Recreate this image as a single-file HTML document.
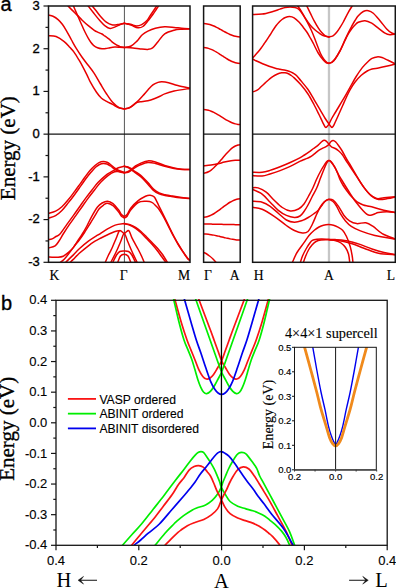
<!DOCTYPE html><html><head><meta charset="utf-8"><title>Band structure figure</title><style>html,body{margin:0;padding:0;background:#fff;width:396px;height:588px;overflow:hidden}svg{display:block}</style></head><body><svg width="396" height="588" viewBox="0 0 396 588"><defs><clipPath id="c1"><rect x="48.5" y="6.0" width="141.5" height="256.3"/></clipPath><clipPath id="c2"><rect x="203.6" y="6.0" width="36.599999999999994" height="256.3"/></clipPath><clipPath id="c3"><rect x="252.6" y="6.0" width="142.70000000000002" height="256.3"/></clipPath><clipPath id="cb"><rect x="56.0" y="299.0" width="331.2" height="246.29999999999995"/></clipPath><clipPath id="ci"><rect x="294.5" y="347.3" width="81.80000000000001" height="122.5"/></clipPath></defs>
<line x1="124.45" y1="6" x2="124.45" y2="262.3" stroke="#666" stroke-width="1.1" />
<line x1="328.97" y1="6" x2="328.97" y2="262.3" stroke="#c6c6c6" stroke-width="2.3" />
<g clip-path="url(#c1)">
<path d="M48.5,15.1 C49.25,15.3 51.4,15.55 53,16.3 C54.6,17.05 56.52,18.23 58.1,19.6 C59.68,20.97 61.15,22.72 62.5,24.5 C63.85,26.28 64.7,27.72 66.2,30.3 C67.7,32.88 69.85,37.03 71.5,40 C73.15,42.97 74.33,45.23 76.1,48.1 C77.87,50.97 80.08,54.33 82.1,57.2 C84.12,60.07 86.18,62.62 88.2,65.3 C90.22,67.98 92.15,70.18 94.2,73.3 C96.25,76.42 98.43,80.55 100.5,84 C102.57,87.45 104.58,90.95 106.6,94 C108.62,97.05 110.58,100.08 112.6,102.3 C114.62,104.52 116.75,106.2 118.7,107.3 C120.65,108.4 123.37,108.63 124.3,108.9" fill="none" stroke="#e80000" stroke-width="1.5" stroke-linejoin="round" stroke-linecap="round" />
<path d="M48.5,35.7 C49.77,35.83 53.48,35.52 56.1,36.5 C58.72,37.48 61.88,39.75 64.2,41.6 C66.52,43.45 68.37,45.85 70,47.6 C71.63,49.35 72.48,50 74,52.1 C75.52,54.2 77.58,57.67 79.1,60.2 C80.62,62.73 81.75,64.77 83.1,67.3 C84.45,69.83 85.98,72.92 87.2,75.4 C88.42,77.88 88.85,79.38 90.4,82.2 C91.95,85.02 94.65,89.62 96.5,92.3 C98.35,94.98 99.82,96.78 101.5,98.3 C103.18,99.82 104.75,100.38 106.6,101.4 C108.45,102.42 110.58,103.33 112.6,104.4 C114.62,105.47 116.75,107.05 118.7,107.8 C120.65,108.55 123.37,108.72 124.3,108.9" fill="none" stroke="#e80000" stroke-width="1.5" stroke-linejoin="round" stroke-linecap="round" />
<path d="M67.2,5 C68.02,5.85 70.43,8.42 72.1,10.1 C73.77,11.78 75.52,13.42 77.2,15.1 C78.88,16.78 80.35,18.43 82.2,20.2 C84.05,21.97 86.28,24.02 88.3,25.7 C90.32,27.38 92.68,29.2 94.3,30.3 C95.92,31.4 96.72,31.68 98,32.3 C99.28,32.92 100.9,33.4 102,34 C103.1,34.6 103.77,35.32 104.6,35.9 C105.43,36.48 106.18,36.92 107,37.5 C107.82,38.08 108.67,38.68 109.5,39.4 C110.33,40.12 111.12,41.07 112,41.8 C112.88,42.53 113.88,43.18 114.8,43.8 C115.72,44.42 116.62,45.03 117.5,45.5 C118.38,45.97 118.95,46.28 120.1,46.6 C121.25,46.92 123.68,47.27 124.4,47.4" fill="none" stroke="#e80000" stroke-width="1.5" stroke-linejoin="round" stroke-linecap="round" />
<path d="M73,5 C73.52,6.18 75.07,9.73 76.1,12.1 C77.13,14.47 78.02,16.52 79.2,19.2 C80.38,21.88 82.07,25.73 83.2,28.2 C84.33,30.67 85.12,32.27 86,34 C86.88,35.73 87.67,37.18 88.5,38.6 C89.33,40.02 90.17,41.38 91,42.5 C91.83,43.62 92.42,44.42 93.5,45.3 C94.58,46.18 96.08,47.22 97.5,47.8 C98.92,48.38 100.58,48.67 102,48.8 C103.42,48.93 104.67,48.78 106,48.6 C107.33,48.42 108.53,47.95 110,47.7 C111.47,47.45 113.22,47.18 114.8,47.1 C116.38,47.02 117.9,47.13 119.5,47.2 C121.1,47.27 123.58,47.45 124.4,47.5" fill="none" stroke="#e80000" stroke-width="1.5" stroke-linejoin="round" stroke-linecap="round" />
<path d="M87.4,5 C88.58,6.52 92.4,11.47 94.5,14.1 C96.6,16.73 98.23,18.83 100,20.8 C101.77,22.77 103.42,24.63 105.1,25.9 C106.78,27.17 108.42,28.23 110.1,28.4 C111.78,28.57 113.52,27.53 115.2,26.9 C116.88,26.27 118.67,25.2 120.2,24.6 C121.73,24 123.7,23.52 124.4,23.3" fill="none" stroke="#e80000" stroke-width="1.5" stroke-linejoin="round" stroke-linecap="round" />
<path d="M91.4,5 C92.08,5.83 94.07,8.2 95.5,10 C96.93,11.8 98.2,13.78 100,15.8 C101.8,17.82 104.2,20.58 106.3,22.1 C108.4,23.62 110.7,24.48 112.6,24.9 C114.5,25.32 116.3,24.77 117.7,24.6 C119.1,24.43 119.88,24.12 121,23.9 C122.12,23.68 123.83,23.4 124.4,23.3" fill="none" stroke="#e80000" stroke-width="1.5" stroke-linejoin="round" stroke-linecap="round" />
<path d="M124.4,23.3 C125,23.38 126.8,23.58 128,23.8 C129.2,24.02 130.17,24.25 131.6,24.6 C133.03,24.95 134.92,25.9 136.6,25.9 C138.28,25.9 140.02,25.45 141.7,24.6 C143.38,23.75 145.32,22.27 146.7,20.8 C148.08,19.33 148.95,17.35 150,15.8 C151.05,14.25 151.92,13.1 153,11.5 C154.08,9.9 155.78,7.28 156.5,6.2 C157.22,5.12 157.17,5.2 157.3,5" fill="none" stroke="#e80000" stroke-width="1.5" stroke-linejoin="round" stroke-linecap="round" />
<path d="M124.4,23.3 C125,23.45 126.8,23.87 128,24.2 C129.2,24.53 129.95,24.7 131.6,25.3 C133.25,25.9 136.02,27.6 137.9,27.8 C139.78,28 141.22,27.67 142.9,26.5 C144.58,25.33 146.82,22.17 148,20.8 C149.18,19.43 149.17,19.4 150,18.3 C150.83,17.2 151.92,15.75 153,14.2 C154.08,12.65 155.45,10.53 156.5,9 C157.55,7.47 158.83,5.67 159.3,5" fill="none" stroke="#e80000" stroke-width="1.5" stroke-linejoin="round" stroke-linecap="round" />
<path d="M124.4,47.5 C125.83,47.57 130.33,47.67 133,47.9 C135.67,48.13 137.92,48.65 140.4,48.9 C142.88,49.15 145.87,49.57 147.9,49.4 C149.93,49.23 150.88,49.23 152.6,47.9 C154.32,46.57 156.18,43.73 158.2,41.4 C160.22,39.07 162.05,35.77 164.7,33.9 C167.35,32.03 171.28,30.98 174.1,30.2 C176.92,29.42 178.87,29.42 181.6,29.2 C184.33,28.98 189.02,28.95 190.5,28.9" fill="none" stroke="#e80000" stroke-width="1.5" stroke-linejoin="round" stroke-linecap="round" />
<path d="M124.4,47.5 C125.52,47.25 129.05,47.02 131.1,46 C133.15,44.98 134.83,43.27 136.7,41.4 C138.57,39.53 140.43,36.52 142.3,34.8 C144.17,33.08 145.72,32.18 147.9,31.1 C150.08,30.02 152.6,29.02 155.4,28.3 C158.2,27.58 161.58,26.95 164.7,26.8 C167.82,26.65 171.28,27.15 174.1,27.4 C176.92,27.65 178.87,28.05 181.6,28.3 C184.33,28.55 189.02,28.8 190.5,28.9" fill="none" stroke="#e80000" stroke-width="1.5" stroke-linejoin="round" stroke-linecap="round" />
<path d="M124.4,108.9 C125.33,108.63 127.98,108.38 130,107.3 C132.02,106.22 134.37,104.33 136.5,102.4 C138.63,100.47 140.9,97.77 142.8,95.7 C144.7,93.63 146.22,91.8 147.9,90 C149.58,88.2 151.22,86.17 152.9,84.9 C154.58,83.63 156.5,82.92 158,82.4 C159.5,81.88 160.15,81.75 161.9,81.8 C163.65,81.85 165.85,82.08 168.5,82.7 C171.15,83.32 174.13,84.57 177.8,85.5 C181.47,86.43 188.38,87.83 190.5,88.3" fill="none" stroke="#e80000" stroke-width="1.5" stroke-linejoin="round" stroke-linecap="round" />
<path d="M124.4,108.9 C125.33,108.67 127.98,108.55 130,107.5 C132.02,106.45 134.78,103.55 136.5,102.6 C138.22,101.65 138.4,102.12 140.3,101.8 C142.2,101.48 145.58,101.2 147.9,100.7 C150.22,100.2 152.18,99.53 154.2,98.8 C156.22,98.07 158.25,97.12 160,96.3 C161.75,95.48 162.35,94.77 164.7,93.9 C167.05,93.03 169.8,92.03 174.1,91.1 C178.4,90.17 187.77,88.77 190.5,88.3" fill="none" stroke="#e80000" stroke-width="1.5" stroke-linejoin="round" stroke-linecap="round" />
<path d="M48.5,213.3 C49.68,212.93 53.37,212.2 55.6,211.1 C57.83,210 59.8,208.58 61.9,206.7 C64,204.82 66.1,202.32 68.2,199.8 C70.3,197.28 72.6,194.13 74.5,191.6 C76.4,189.07 77.85,187.03 79.6,184.6 C81.35,182.17 83.27,179.35 85,177 C86.73,174.65 88.33,172.42 90,170.5 C91.67,168.58 93.5,166.82 95,165.5 C96.5,164.18 97.62,163.27 99,162.6 C100.38,161.93 101.97,161.55 103.3,161.5 C104.63,161.45 105.8,161.8 107,162.3 C108.2,162.8 109.13,163.48 110.5,164.5 C111.87,165.52 113.7,167.35 115.2,168.4 C116.7,169.45 117.97,170.13 119.5,170.8 C121.03,171.47 123.58,172.13 124.4,172.4" fill="none" stroke="#e80000" stroke-width="1.5" stroke-linejoin="round" stroke-linecap="round" />
<path d="M48.5,218.3 C49.68,217.85 53.37,216.9 55.6,215.6 C57.83,214.3 59.8,212.62 61.9,210.5 C64,208.38 66.1,205.53 68.2,202.9 C70.3,200.27 72.4,197.53 74.5,194.7 C76.6,191.87 78.88,188.6 80.8,185.9 C82.72,183.2 84.3,180.77 86,178.5 C87.7,176.23 89.42,174.17 91,172.3 C92.58,170.43 94.08,168.6 95.5,167.3 C96.92,166 98.2,165.15 99.5,164.5 C100.8,163.85 102.05,163.48 103.3,163.4 C104.55,163.32 105.8,163.57 107,164 C108.2,164.43 109.13,165.08 110.5,166 C111.87,166.92 113.7,168.53 115.2,169.5 C116.7,170.47 117.97,171.25 119.5,171.8 C121.03,172.35 123.58,172.63 124.4,172.8" fill="none" stroke="#e80000" stroke-width="1.5" stroke-linejoin="round" stroke-linecap="round" />
<path d="M48.5,239.7 C49.1,239.57 50.85,239.43 52.1,238.9 C53.35,238.37 54.68,237.32 56,236.5 C57.32,235.68 58.18,236.02 60,234 C61.82,231.98 64.68,227.47 66.9,224.4 C69.12,221.33 71.18,218.55 73.3,215.6 C75.42,212.65 77.5,209.65 79.6,206.7 C81.7,203.75 83.8,200.73 85.9,197.9 C88,195.07 90.15,192.3 92.2,189.7 C94.25,187.1 95.93,184.68 98.2,182.3 C100.47,179.92 103.83,177.02 105.8,175.4 C107.77,173.78 108.73,173.4 110,172.6 C111.27,171.8 112,171.4 113.4,170.6 C114.8,169.8 116.57,168.52 118.4,167.8 C120.23,167.08 123.4,166.55 124.4,166.3" fill="none" stroke="#e80000" stroke-width="1.5" stroke-linejoin="round" stroke-linecap="round" />
<path d="M48.5,248 C49.6,247.63 53.35,246.97 55.1,245.8 C56.85,244.63 57.65,242.97 59,241 C60.35,239.03 61.45,236.77 63.2,234 C64.95,231.23 67.4,227.47 69.5,224.4 C71.6,221.33 73.7,218.55 75.8,215.6 C77.9,212.65 80,209.65 82.1,206.7 C84.2,203.75 86.3,200.73 88.4,197.9 C90.5,195.07 92.65,192.3 94.7,189.7 C96.75,187.1 98.43,184.68 100.7,182.3 C102.97,179.92 105.98,177.15 108.3,175.4 C110.62,173.65 112.82,172.43 114.6,171.8 C116.38,171.17 117.37,171.5 119,171.6 C120.63,171.7 123.5,172.27 124.4,172.4" fill="none" stroke="#e80000" stroke-width="1.5" stroke-linejoin="round" stroke-linecap="round" />
<path d="M48.5,257 C49.1,257.03 50.5,257.15 52.1,257.2 C53.7,257.25 56.25,257.47 58.1,257.3 C59.95,257.13 61.52,256.98 63.2,256.2 C64.88,255.42 66.52,254.03 68.2,252.6 C69.88,251.17 71.62,249.7 73.3,247.6 C74.98,245.5 76.8,242.27 78.3,240 C79.8,237.73 80.87,236.33 82.3,234 C83.73,231.67 85.37,228.87 86.9,226 C88.43,223.13 89.73,219.97 91.5,216.8 C93.27,213.63 95.73,209.3 97.5,207 C99.27,204.7 100.43,203.97 102.1,203 C103.77,202.03 105.68,201.1 107.5,201.2 C109.32,201.3 111.17,202.17 113,203.6 C114.83,205.03 117.08,207.98 118.5,209.8 C119.92,211.62 120.53,213.37 121.5,214.5 C122.47,215.63 123.83,216.25 124.3,216.6" fill="none" stroke="#e80000" stroke-width="1.5" stroke-linejoin="round" stroke-linecap="round" />
<path d="M59.5,263 C60.28,262.37 62.58,260.85 64.2,259.2 C65.82,257.55 67.52,255.28 69.2,253.1 C70.88,250.92 72.62,248.28 74.3,246.1 C75.98,243.92 77.6,242.27 79.3,240 C81,237.73 82.73,235.17 84.5,232.5 C86.27,229.83 88.23,226.68 89.9,224 C91.57,221.32 92.98,218.9 94.5,216.4 C96.02,213.9 97.48,210.9 99,209 C100.52,207.1 102.18,205.97 103.6,205 C105.02,204.03 105.93,203.08 107.5,203.2 C109.07,203.32 111.17,204.27 113,205.7 C114.83,207.13 117.08,210.05 118.5,211.8 C119.92,213.55 120.53,215.18 121.5,216.2 C122.47,217.22 123.83,217.62 124.3,217.9" fill="none" stroke="#e80000" stroke-width="1.5" stroke-linejoin="round" stroke-linecap="round" />
<path d="M65,263 C66.13,261.9 69.42,258.77 71.8,256.4 C74.18,254.03 76.53,251.33 79.3,248.8 C82.07,246.27 85.37,243.47 88.4,241.2 C91.43,238.93 95.57,236.42 97.5,235.2 C99.43,233.98 98.32,234.95 100,233.9 C101.68,232.85 105.07,230.37 107.6,228.9 C110.13,227.43 112.4,225.98 115.2,225.1 C118,224.22 122.87,223.85 124.4,223.6" fill="none" stroke="#e80000" stroke-width="1.5" stroke-linejoin="round" stroke-linecap="round" />
<path d="M69.5,263 C70.13,262.4 71.67,261.02 73.3,259.4 C74.93,257.78 76.78,255.57 79.3,253.3 C81.82,251.03 85.78,247.82 88.4,245.8 C91.02,243.78 92.9,242.5 95,241.2 C97.1,239.9 98.98,239.03 101,238 C103.02,236.97 105.27,235.87 107.1,235 C108.93,234.13 110.52,233.42 112,232.8 C113.48,232.18 114.8,231.63 116,231.3 C117.2,230.97 118.67,230.88 119.2,230.8" fill="none" stroke="#e80000" stroke-width="1.5" stroke-linejoin="round" stroke-linecap="round" />
<path d="M105,263 C105.58,261.67 107.38,257.37 108.5,255 C109.62,252.63 110.42,251.6 111.7,248.8 C112.98,246 114.95,241.18 116.2,238.2 C117.45,235.22 118.27,232 119.2,230.9 C120.13,229.8 120.97,231.15 121.8,231.6 C122.63,232.05 123.4,233.6 124.2,233.6 C125,233.6 125.78,232.05 126.6,231.6 C127.42,231.15 128.17,229.78 129.1,230.9 C130.03,232.02 130.72,235.28 132.2,238.3 C133.68,241.32 136.45,246.05 138,249 C139.55,251.95 140.42,253.67 141.5,256 C142.58,258.33 144,261.83 144.5,263" fill="none" stroke="#e80000" stroke-width="1.5" stroke-linejoin="round" stroke-linecap="round" />
<path d="M110.5,263 C111.45,261.13 114.48,255.43 116.2,251.8 C117.92,248.17 119.47,244.23 120.8,241.2 C122.13,238.17 123.07,233.6 124.2,233.6 C125.33,233.6 126.28,238.17 127.6,241.2 C128.92,244.23 130.45,248.17 132.1,251.8 C133.75,255.43 136.6,261.13 137.5,263" fill="none" stroke="#e80000" stroke-width="1.5" stroke-linejoin="round" stroke-linecap="round" />
<path d="M112.5,263 C113.17,261.67 115.28,256.92 116.5,255 C117.72,253.08 118.52,252.17 119.8,251.5 C121.08,250.83 122.73,251 124.2,251 C125.67,251 127.32,250.83 128.6,251.5 C129.88,252.17 130.7,253.08 131.9,255 C133.1,256.92 135.15,261.67 135.8,263" fill="none" stroke="#e80000" stroke-width="1.5" stroke-linejoin="round" stroke-linecap="round" />
<path d="M117.5,263 C118,261.83 119.38,257.47 120.5,256 C121.62,254.53 122.95,254.2 124.2,254.2 C125.45,254.2 126.87,254.53 128,256 C129.13,257.47 130.5,261.83 131,263" fill="none" stroke="#e80000" stroke-width="1.5" stroke-linejoin="round" stroke-linecap="round" />
<path d="M124.3,172.6 C124.92,172.42 126.88,172.02 128,171.5 C129.12,170.98 129.75,170.42 131,169.5 C132.25,168.58 133.93,167.02 135.5,166 C137.07,164.98 138.33,164.25 140.4,163.4 C142.47,162.55 145.4,161.13 147.9,160.9 C150.4,160.67 152.6,161.23 155.4,162 C158.2,162.77 161.58,164.5 164.7,165.5 C167.82,166.5 171.22,167.38 174.1,168 C176.98,168.62 179.27,168.93 182,169.2 C184.73,169.47 189.08,169.53 190.5,169.6" fill="none" stroke="#e80000" stroke-width="1.5" stroke-linejoin="round" stroke-linecap="round" />
<path d="M124.3,173 C124.92,172.87 126.88,172.62 128,172.2 C129.12,171.78 129.75,171.32 131,170.5 C132.25,169.68 133.93,168.25 135.5,167.3 C137.07,166.35 138.33,165.6 140.4,164.8 C142.47,164 145.4,162.73 147.9,162.5 C150.4,162.27 152.6,162.77 155.4,163.4 C158.2,164.03 161.58,165.45 164.7,166.3 C167.82,167.15 171.22,167.98 174.1,168.5 C176.98,169.02 179.27,169.22 182,169.4 C184.73,169.58 189.08,169.57 190.5,169.6" fill="none" stroke="#e80000" stroke-width="1.5" stroke-linejoin="round" stroke-linecap="round" />
<path d="M124.3,166.3 C124.92,166.42 126.88,166.63 128,167 C129.12,167.37 129.87,167.77 131,168.5 C132.13,169.23 133.23,170.3 134.8,171.4 C136.37,172.5 138.22,173.23 140.4,175.1 C142.58,176.97 145.72,180.27 147.9,182.6 C150.08,184.93 151.63,187.38 153.5,189.1 C155.37,190.82 157.18,191.95 159.1,192.9 C161.02,193.85 163.13,194.33 165,194.8 C166.87,195.27 167.8,195.28 170.3,195.7 C172.8,196.12 176.63,196.83 180,197.3 C183.37,197.77 188.75,198.3 190.5,198.5" fill="none" stroke="#e80000" stroke-width="1.5" stroke-linejoin="round" stroke-linecap="round" />
<path d="M124.3,166.3 C124.92,166.5 126.88,166.97 128,167.5 C129.12,168.03 129.87,168.68 131,169.5 C132.13,170.32 133.23,171.23 134.8,172.4 C136.37,173.57 138.22,174.53 140.4,176.5 C142.58,178.47 145.72,181.87 147.9,184.2 C150.08,186.53 151.63,188.88 153.5,190.5 C155.37,192.12 157.18,193.07 159.1,193.9 C161.02,194.73 163.13,195.1 165,195.5 C166.87,195.9 167.8,195.92 170.3,196.3 C172.8,196.68 176.63,197.43 180,197.8 C183.37,198.17 188.75,198.38 190.5,198.5" fill="none" stroke="#e80000" stroke-width="1.5" stroke-linejoin="round" stroke-linecap="round" />
<path d="M124.3,216.6 C124.77,216.25 126,215.93 127.1,214.5 C128.2,213.07 129.05,210.3 130.9,208 C132.75,205.7 135.77,202.67 138.2,200.7 C140.63,198.73 143.53,197.12 145.5,196.2 C147.47,195.28 148.53,195.05 150,195.2 C151.47,195.35 152.87,195.42 154.3,197.1 C155.73,198.78 157.32,202.82 158.6,205.3 C159.88,207.78 160.82,209.62 162,212 C163.18,214.38 164.37,216.85 165.7,219.6 C167.03,222.35 168.57,225.6 170,228.5 C171.43,231.4 172.88,234.33 174.3,237 C175.72,239.67 177.07,242.1 178.5,244.5 C179.93,246.9 181.65,249.48 182.9,251.4 C184.15,253.32 185.05,254.68 186,256 C186.95,257.32 187.85,258.58 188.6,259.3 C189.35,260.02 190.18,260.13 190.5,260.3" fill="none" stroke="#e80000" stroke-width="1.5" stroke-linejoin="round" stroke-linecap="round" />
<path d="M124.3,217.9 C124.77,217.62 126,217.55 127.1,216.2 C128.2,214.85 129.05,212.08 130.9,209.8 C132.75,207.52 135.73,203.93 138.2,202.5 C140.67,201.07 143.82,201.37 145.7,201.2 C147.58,201.03 148.3,201.2 149.5,201.5 C150.7,201.8 151.82,202.25 152.9,203 C153.98,203.75 155.05,205.03 156,206 C156.95,206.97 157.6,207.43 158.6,208.8 C159.6,210.17 160.82,212.18 162,214.2 C163.18,216.22 164.37,218.37 165.7,220.9 C167.03,223.43 168.57,226.6 170,229.4 C171.43,232.2 172.88,235.08 174.3,237.7 C175.72,240.32 177.07,242.73 178.5,245.1 C179.93,247.47 181.65,250.02 182.9,251.9 C184.15,253.78 185.05,255.12 186,256.4 C186.95,257.68 187.85,258.93 188.6,259.6 C189.35,260.27 190.18,260.27 190.5,260.4" fill="none" stroke="#e80000" stroke-width="1.5" stroke-linejoin="round" stroke-linecap="round" />
<path d="M124.4,223.6 C125.33,223.77 128.13,223.98 130,224.6 C131.87,225.22 133.77,226.15 135.6,227.3 C137.43,228.45 139.17,229.88 141,231.5 C142.83,233.12 144.77,235.17 146.6,237 C148.43,238.83 150.18,240.63 152,242.5 C153.82,244.37 155.75,246.2 157.5,248.2 C159.25,250.2 160.92,252.25 162.5,254.5 C164.08,256.75 166.12,260.28 167,261.7 C167.88,263.12 167.67,262.78 167.8,263" fill="none" stroke="#e80000" stroke-width="1.5" stroke-linejoin="round" stroke-linecap="round" />
<path d="M124.4,223.9 C125.33,224.13 128.13,224.55 130,225.3 C131.87,226.05 133.77,227.15 135.6,228.4 C137.43,229.65 139.17,231.1 141,232.8 C142.83,234.5 144.77,236.68 146.6,238.6 C148.43,240.52 150.27,242.37 152,244.3 C153.73,246.23 155.37,248.12 157,250.2 C158.63,252.28 160.33,254.78 161.8,256.8 C163.27,258.82 165.03,261.27 165.8,262.3 C166.57,263.33 166.3,262.88 166.4,263" fill="none" stroke="#e80000" stroke-width="1.5" stroke-linejoin="round" stroke-linecap="round" />
</g>
<g clip-path="url(#c2)">
<path d="M203.1,23.5 C203.55,23.53 204.89,23.56 205.79,23.67 C206.68,23.78 207.58,23.95 208.47,24.17 C209.37,24.39 210.26,24.66 211.16,24.97 C212.05,25.28 212.95,25.65 213.84,26.04 C214.74,26.43 215.63,26.87 216.53,27.32 C217.42,27.77 218.32,28.26 219.21,28.75 C220.11,29.24 221,29.75 221.9,30.25 C222.8,30.75 223.69,31.26 224.59,31.75 C225.48,32.24 226.38,32.73 227.27,33.18 C228.17,33.63 229.06,34.07 229.96,34.46 C230.85,34.85 231.75,35.22 232.64,35.53 C233.54,35.84 234.43,36.11 235.33,36.33 C236.22,36.55 237.12,36.72 238.01,36.83 C238.91,36.94 240.25,36.97 240.7,37" fill="none" stroke="#e80000" stroke-width="1.5" stroke-linejoin="round" stroke-linecap="round" />
<path d="M203.1,47.6 C203.55,47.63 204.89,47.67 205.79,47.8 C206.68,47.93 207.58,48.13 208.47,48.39 C209.37,48.64 210.26,48.97 211.16,49.33 C212.05,49.7 212.95,50.13 213.84,50.59 C214.74,51.05 215.63,51.57 216.53,52.1 C217.42,52.63 218.32,53.21 219.21,53.78 C220.11,54.36 221,54.96 221.9,55.55 C222.8,56.14 223.69,56.74 224.59,57.32 C225.48,57.89 226.38,58.47 227.27,59 C228.17,59.53 229.06,60.05 229.96,60.51 C230.85,60.97 231.75,61.4 232.64,61.77 C233.54,62.13 234.43,62.46 235.33,62.71 C236.22,62.97 237.12,63.17 238.01,63.3 C238.91,63.43 240.25,63.47 240.7,63.5" fill="none" stroke="#e80000" stroke-width="1.5" stroke-linejoin="round" stroke-linecap="round" />
<path d="M203.1,109.6 C203.55,109.63 204.89,109.66 205.79,109.79 C206.68,109.91 207.58,110.1 208.47,110.34 C209.37,110.58 210.26,110.89 211.16,111.24 C212.05,111.58 212.95,111.99 213.84,112.42 C214.74,112.86 215.63,113.34 216.53,113.85 C217.42,114.35 218.32,114.89 219.21,115.43 C220.11,115.97 221,116.54 221.9,117.1 C222.8,117.66 223.69,118.23 224.59,118.77 C225.48,119.31 226.38,119.85 227.27,120.35 C228.17,120.86 229.06,121.34 229.96,121.78 C230.85,122.21 231.75,122.62 232.64,122.96 C233.54,123.31 234.43,123.62 235.33,123.86 C236.22,124.1 237.12,124.29 238.01,124.41 C238.91,124.54 240.25,124.57 240.7,124.6" fill="none" stroke="#e80000" stroke-width="1.5" stroke-linejoin="round" stroke-linecap="round" />
<path d="M203.1,166 C204.43,165.85 208.65,165.47 211.1,165.1 C213.55,164.73 215.58,164.3 217.8,163.8 C220.02,163.3 222.18,162.62 224.4,162.1 C226.62,161.58 229.17,161 231.1,160.7 C233.03,160.4 234.4,160.38 236,160.3 C237.6,160.22 239.92,160.22 240.7,160.2" fill="none" stroke="#e80000" stroke-width="1.5" stroke-linejoin="round" stroke-linecap="round" />
<path d="M203.1,173.2 C203.55,173.14 204.89,173.08 205.79,172.84 C206.68,172.61 207.58,172.24 208.47,171.78 C209.37,171.32 210.26,170.74 211.16,170.08 C212.05,169.42 212.95,168.65 213.84,167.82 C214.74,166.99 215.63,166.06 216.53,165.1 C217.42,164.15 218.32,163.12 219.21,162.08 C220.11,161.05 221,159.96 221.9,158.9 C222.8,157.84 223.69,156.75 224.59,155.72 C225.48,154.68 226.38,153.65 227.27,152.7 C228.17,151.74 229.06,150.81 229.96,149.98 C230.85,149.15 231.75,148.38 232.64,147.72 C233.54,147.06 234.43,146.48 235.33,146.02 C236.22,145.56 237.12,145.19 238.01,144.96 C238.91,144.72 240.25,144.66 240.7,144.6" fill="none" stroke="#e80000" stroke-width="1.5" stroke-linejoin="round" stroke-linecap="round" />
<path d="M203.1,217.2 C203.55,217.16 204.89,217.12 205.79,216.97 C206.68,216.82 207.58,216.58 208.47,216.29 C209.37,215.99 210.26,215.62 211.16,215.19 C212.05,214.77 212.95,214.27 213.84,213.74 C214.74,213.2 215.63,212.61 216.53,211.99 C217.42,211.38 218.32,210.71 219.21,210.05 C220.11,209.38 221,208.68 221.9,208 C222.8,207.32 223.69,206.62 224.59,205.95 C225.48,205.29 226.38,204.62 227.27,204.01 C228.17,203.39 229.06,202.8 229.96,202.26 C230.85,201.73 231.75,201.23 232.64,200.81 C233.54,200.38 234.43,200.01 235.33,199.71 C236.22,199.42 237.12,199.18 238.01,199.03 C238.91,198.88 240.25,198.84 240.7,198.8" fill="none" stroke="#e80000" stroke-width="1.5" stroke-linejoin="round" stroke-linecap="round" />
<path d="M203.1,224 C203.55,224 204.89,224.02 205.79,224.03 C206.68,224.04 207.58,224.05 208.47,224.07 C209.37,224.08 210.26,224.1 211.16,224.11 C212.05,224.13 212.95,224.15 213.84,224.17 C214.74,224.18 215.63,224.2 216.53,224.22 C217.42,224.24 218.32,224.27 219.21,224.29 C220.11,224.31 221,224.33 221.9,224.35 C222.8,224.37 223.69,224.39 224.59,224.41 C225.48,224.43 226.38,224.46 227.27,224.48 C228.17,224.5 229.06,224.52 229.96,224.53 C230.85,224.55 231.75,224.57 232.64,224.59 C233.54,224.6 234.43,224.62 235.33,224.63 C236.22,224.65 237.12,224.66 238.01,224.67 C238.91,224.68 240.25,224.7 240.7,224.7" fill="none" stroke="#e80000" stroke-width="1.5" stroke-linejoin="round" stroke-linecap="round" />
<path d="M203.1,234 C203.55,234.01 204.89,234.03 205.79,234.08 C206.68,234.12 207.58,234.2 208.47,234.3 C209.37,234.39 210.26,234.52 211.16,234.65 C212.05,234.79 212.95,234.96 213.84,235.13 C214.74,235.3 215.63,235.5 216.53,235.7 C217.42,235.9 218.32,236.12 219.21,236.33 C220.11,236.55 221,236.78 221.9,237 C222.8,237.22 223.69,237.45 224.59,237.67 C225.48,237.88 226.38,238.1 227.27,238.3 C228.17,238.5 229.06,238.7 229.96,238.87 C230.85,239.04 231.75,239.21 232.64,239.35 C233.54,239.48 234.43,239.61 235.33,239.7 C236.22,239.8 237.12,239.88 238.01,239.92 C238.91,239.97 240.25,239.99 240.7,240" fill="none" stroke="#e80000" stroke-width="1.5" stroke-linejoin="round" stroke-linecap="round" />
<path d="M203.1,252.4 C203.58,252.58 204.93,252.9 206,253.5 C207.07,254.1 208.33,255.08 209.5,256 C210.67,256.92 211.83,257.83 213,259 C214.17,260.17 215.92,262.33 216.5,263" fill="none" stroke="#e80000" stroke-width="1.5" stroke-linejoin="round" stroke-linecap="round" />
</g>
<g clip-path="url(#c3)">
<path d="M252,14.5 C253.68,14.43 258.73,14.57 262.1,14.1 C265.47,13.63 269.22,12.53 272.2,11.7 C275.18,10.87 277.85,9.8 280,9.1 C282.15,8.4 283.42,7.85 285.1,7.5 C286.78,7.15 288.42,7 290.1,7 C291.78,7 293.68,7.07 295.2,7.5 C296.72,7.93 297.87,8.33 299.2,9.6 C300.53,10.87 301.85,13 303.2,15.1 C304.55,17.2 305.95,19.67 307.3,22.2 C308.65,24.73 310.1,27.67 311.3,30.3 C312.5,32.93 313.47,35.38 314.5,38 C315.53,40.62 316.5,43.42 317.5,46 C318.5,48.58 319.42,51.25 320.5,53.5 C321.58,55.75 322.92,57.98 324,59.5 C325.08,61.02 326.18,61.97 327,62.6 C327.82,63.23 328.58,63.18 328.9,63.3" fill="none" stroke="#e80000" stroke-width="1.5" stroke-linejoin="round" stroke-linecap="round" />
<path d="M252,58.7 C252.5,58.15 254,56.52 255,55.4 C256,54.28 257,53.2 258,52 C259,50.8 260,49.53 261,48.2 C262,46.87 263,45.42 264,44 C265,42.58 266,41.2 267,39.7 C268,38.2 269,36.58 270,35 C271,33.42 272,31.73 273,30.2 C274,28.67 275,27.13 276,25.8 C277,24.47 278,23.25 279,22.2 C280,21.15 280.95,20.28 282,19.5 C283.05,18.72 284.03,18 285.3,17.5 C286.57,17 288.13,16.45 289.6,16.5 C291.07,16.55 292.5,16.85 294.1,17.8 C295.7,18.75 297.68,20.63 299.2,22.2 C300.72,23.77 301.93,25.57 303.2,27.2 C304.47,28.83 305.67,30.28 306.8,32 C307.93,33.72 308.93,35.63 310,37.5 C311.07,39.37 311.83,40.62 313.2,43.2 C314.57,45.78 316.52,50.2 318.2,53 C319.88,55.8 322,58.42 323.3,60 C324.6,61.58 325.07,61.93 326,62.5 C326.93,63.07 328.42,63.25 328.9,63.4" fill="none" stroke="#e80000" stroke-width="1.5" stroke-linejoin="round" stroke-linecap="round" />
<path d="M296.3,4 C296.53,4.33 296.88,4.82 297.7,6 C298.52,7.18 299.93,9.08 301.2,11.1 C302.47,13.12 303.78,15.75 305.3,18.1 C306.82,20.45 308.62,23.17 310.3,25.2 C311.98,27.23 313.88,28.95 315.4,30.3 C316.92,31.65 318.13,32.43 319.4,33.3 C320.67,34.17 321.42,34.88 323,35.5 C324.58,36.12 327.92,36.75 328.9,37" fill="none" stroke="#e80000" stroke-width="1.5" stroke-linejoin="round" stroke-linecap="round" />
<path d="M305.8,4 C305.97,4.33 306.05,4.48 306.8,6 C307.55,7.52 309.05,10.57 310.3,13.1 C311.55,15.63 312.95,18.68 314.3,21.2 C315.65,23.72 317.2,26.35 318.4,28.2 C319.6,30.05 320.35,31.03 321.5,32.3 C322.65,33.57 324.07,35.02 325.3,35.8 C326.53,36.58 328.3,36.8 328.9,37" fill="none" stroke="#e80000" stroke-width="1.5" stroke-linejoin="round" stroke-linecap="round" />
<path d="M328.9,37 C329.58,36.82 331.7,36.68 333,35.9 C334.3,35.12 335.53,33.7 336.7,32.3 C337.87,30.9 338.9,29.22 340,27.5 C341.1,25.78 341.92,24.53 343.3,22 C344.68,19.47 346.77,15.05 348.3,12.3 C349.83,9.55 351.67,6.88 352.5,5.5 C353.33,4.12 353.17,4.25 353.3,4" fill="none" stroke="#e80000" stroke-width="1.5" stroke-linejoin="round" stroke-linecap="round" />
<path d="M328.9,63.3 C329.42,63.08 330.98,62.72 332,62 C333.02,61.28 333.67,60.88 335,59 C336.33,57.12 338.33,53.9 340,50.7 C341.67,47.5 343.62,42.78 345,39.8 C346.38,36.82 347.18,35.05 348.3,32.8 C349.42,30.55 350.58,28.35 351.7,26.3 C352.82,24.25 353.9,22.27 355,20.5 C356.1,18.73 356.92,17.2 358.3,15.7 C359.68,14.2 361.63,12.33 363.3,11.5 C364.97,10.67 366.63,10.42 368.3,10.7 C369.97,10.98 371.35,11.53 373.3,13.2 C375.25,14.87 377.77,18.07 380,20.7 C382.23,23.33 384.75,26.95 386.7,29 C388.65,31.05 390.23,32.17 391.7,33 C393.17,33.83 394.87,33.83 395.5,34" fill="none" stroke="#e80000" stroke-width="1.5" stroke-linejoin="round" stroke-linecap="round" />
<path d="M328.9,63.4 C329.42,63.22 330.98,62.98 332,62.3 C333.02,61.62 333.67,61.15 335,59.3 C336.33,57.45 338.33,54.33 340,51.2 C341.67,48.07 343.62,43.37 345,40.5 C346.38,37.63 347.18,35.95 348.3,34 C349.42,32.05 350.58,30.3 351.7,28.8 C352.82,27.3 353.9,26.08 355,25 C356.1,23.92 356.63,23.02 358.3,22.3 C359.97,21.58 362.77,20.55 365,20.7 C367.23,20.85 369.48,21.95 371.7,23.2 C373.92,24.45 376.08,26.53 378.3,28.2 C380.52,29.87 383.05,32.1 385,33.2 C386.95,34.3 388.25,34.63 390,34.8 C391.75,34.97 394.58,34.3 395.5,34.2" fill="none" stroke="#e80000" stroke-width="1.5" stroke-linejoin="round" stroke-linecap="round" />
<path d="M252,58.7 C252.67,59.05 254.23,59.95 256,60.8 C257.77,61.65 260.43,62.88 262.6,63.8 C264.77,64.72 266.88,65.55 269,66.3 C271.12,67.05 273.47,67.8 275.3,68.3 C277.13,68.8 278.32,68.97 280,69.3 C281.68,69.63 283.9,69.97 285.4,70.3 C286.9,70.63 287.75,70.85 289,71.3 C290.25,71.75 291.65,72.3 292.9,73 C294.15,73.7 295.2,74.25 296.5,75.5 C297.8,76.75 298.78,78.17 300.7,80.5 C302.62,82.83 305.75,86.28 308,89.5 C310.25,92.72 312.15,96.35 314.2,99.8 C316.25,103.25 318.47,107.08 320.3,110.2 C322.13,113.32 323.75,116.2 325.2,118.5 C326.65,120.8 328.08,122.7 329,124 C329.92,125.3 330.17,125.73 330.7,126.3 C331.23,126.87 331.65,127.65 332.2,127.4 C332.75,127.15 333.07,126.62 334,124.8 C334.93,122.98 336.35,119.72 337.8,116.5 C339.25,113.28 341.27,108.72 342.7,105.5 C344.13,102.28 345.18,99.82 346.4,97.2 C347.62,94.58 348.58,92.3 350,89.8 C351.42,87.3 353.07,84.58 354.9,82.2 C356.73,79.82 358.95,77.37 361,75.5 C363.05,73.63 365.37,72.08 367.2,71 C369.03,69.92 370.12,69.5 372,69 C373.88,68.5 376.33,68.4 378.5,68 C380.67,67.6 382.17,67.27 385,66.6 C387.83,65.93 393.75,64.43 395.5,64" fill="none" stroke="#e80000" stroke-width="1.5" stroke-linejoin="round" stroke-linecap="round" />
<path d="M252,91.8 C252.42,91.73 253.57,91.72 254.5,91.4 C255.43,91.08 256.52,90.67 257.6,89.9 C258.68,89.13 259.73,87.97 261,86.8 C262.27,85.63 263.87,84.12 265.2,82.9 C266.53,81.68 267.75,80.55 269,79.5 C270.25,78.45 271.37,77.48 272.7,76.6 C274.03,75.72 275.52,74.83 277,74.2 C278.48,73.57 280.27,73.03 281.6,72.8 C282.93,72.57 283.95,72.68 285,72.8 C286.05,72.92 286.9,73.08 287.9,73.5 C288.9,73.92 289.95,74.57 291,75.3 C292.05,76.03 292.58,76.35 294.2,77.9 C295.82,79.45 298.4,81.92 300.7,84.6 C303,87.28 305.75,90.6 308,94 C310.25,97.4 312.37,101.58 314.2,105 C316.03,108.42 317.58,111.62 319,114.5 C320.42,117.38 321.63,120.18 322.7,122.3 C323.77,124.42 324.63,126.53 325.4,127.2 C326.17,127.87 326.7,126.83 327.3,126.3 C327.9,125.77 328.22,125.38 329,124 C329.78,122.62 330.95,119.92 332,118 C333.05,116.08 333.72,115.13 335.3,112.5 C336.88,109.87 339.65,105.32 341.5,102.2 C343.35,99.08 344.77,96.67 346.4,93.8 C348.03,90.93 349.67,87.88 351.3,85 C352.93,82.12 354.37,79.4 356.2,76.5 C358.03,73.6 360.27,70.15 362.3,67.6 C364.33,65.05 366.78,62.73 368.4,61.2 C370.02,59.67 370.57,59.12 372,58.4 C373.43,57.68 375.33,57.05 377,56.9 C378.67,56.75 380.17,56.93 382,57.5 C383.83,58.07 385.75,59.22 388,60.3 C390.25,61.38 394.25,63.38 395.5,64" fill="none" stroke="#e80000" stroke-width="1.5" stroke-linejoin="round" stroke-linecap="round" />
<path d="M252,172.2 C253.68,172.22 259.1,172.6 262.1,172.3 C265.1,172 267,171.33 270,170.4 C273,169.47 276.73,168.02 280.1,166.7 C283.47,165.38 286.83,164.02 290.2,162.5 C293.57,160.98 297.92,158.85 300.3,157.6 C302.68,156.35 303.03,155.95 304.5,155 C305.97,154.05 307.58,152.98 309.1,151.9 C310.62,150.82 312.08,149.63 313.6,148.5 C315.12,147.37 316.8,146.27 318.2,145.1 C319.6,143.93 321,142.3 322,141.5 C323,140.7 323.45,140.33 324.2,140.3 C324.95,140.27 325.73,140.68 326.5,141.3 C327.27,141.92 327.97,143.08 328.8,144 C329.63,144.92 330.42,146.05 331.5,146.8 C332.58,147.55 334.13,147.83 335.3,148.5 C336.47,149.17 337.35,149.8 338.5,150.8 C339.65,151.8 340.95,152.88 342.2,154.5 C343.45,156.12 344.7,158.5 346,160.5 C347.3,162.5 348.22,163.8 350,166.5 C351.78,169.2 354.37,173.18 356.7,176.7 C359.03,180.22 361.57,184.42 364,187.6 C366.43,190.78 368.88,193.82 371.3,195.8 C373.72,197.78 375.78,199.03 378.5,199.5 C381.22,199.97 384.77,199.05 387.6,198.6 C390.43,198.15 394.18,197.1 395.5,196.8" fill="none" stroke="#e80000" stroke-width="1.5" stroke-linejoin="round" stroke-linecap="round" />
<path d="M252,175.6 C253.68,175.67 259.1,176.27 262.1,176 C265.1,175.73 267,174.9 270,174 C273,173.1 276.73,171.87 280.1,170.6 C283.47,169.33 286.83,167.97 290.2,166.4 C293.57,164.83 297.83,162.4 300.3,161.2 C302.77,160 303.38,159.9 305,159.2 C306.62,158.5 308.5,157.83 310,157 C311.5,156.17 312.67,155.22 314,154.2 C315.33,153.18 316.75,151.8 318,150.9 C319.25,150 320.42,149.38 321.5,148.8 C322.58,148.22 323.62,147.83 324.5,147.4 C325.38,146.97 326.08,146.68 326.8,146.2 C327.52,145.72 328.1,145.28 328.8,144.5 C329.5,143.72 330.27,142.18 331,141.5 C331.73,140.82 332.45,140.35 333.2,140.4 C333.95,140.45 334.62,140.95 335.5,141.8 C336.38,142.65 337.38,143.97 338.5,145.5 C339.62,147.03 340.95,148.92 342.2,151 C343.45,153.08 344.7,155.75 346,158 C347.3,160.25 348.52,162 350,164.5 C351.48,167 352.87,169.6 354.9,173 C356.93,176.4 359.77,181.4 362.2,184.9 C364.63,188.4 367.08,191.73 369.5,194 C371.92,196.27 374.28,197.87 376.7,198.5 C379.12,199.13 380.87,198.08 384,197.8 C387.13,197.52 393.58,196.97 395.5,196.8" fill="none" stroke="#e80000" stroke-width="1.5" stroke-linejoin="round" stroke-linecap="round" />
<path d="M252,187.7 C253.02,187.73 255.73,187.17 258.1,187.9 C260.47,188.63 263.52,190.05 266.2,192.1 C268.88,194.15 271.52,197.63 274.2,200.2 C276.88,202.77 279.6,205.7 282.3,207.5 C285,209.3 287.7,210.75 290.4,211 C293.1,211.25 296.23,210.17 298.5,209 C300.77,207.83 302.32,206.17 304,204 C305.68,201.83 307.17,198.58 308.6,196 C310.03,193.42 311.25,191.33 312.6,188.5 C313.95,185.67 315.35,181.92 316.7,179 C318.05,176.08 319.37,173.42 320.7,171 C322.03,168.58 323.65,166.12 324.7,164.5 C325.75,162.88 326.3,161.98 327,161.3 C327.7,160.62 328.23,160.37 328.9,160.4 C329.57,160.43 330.07,160.48 331,161.5 C331.93,162.52 333.42,164.58 334.5,166.5 C335.58,168.42 336.55,170.75 337.5,173 C338.45,175.25 339.25,177.92 340.2,180 C341.15,182.08 342.12,183.75 343.2,185.5 C344.28,187.25 345.48,188.83 346.7,190.5 C347.92,192.17 349.12,193.92 350.5,195.5 C351.88,197.08 353.58,198.75 355,200 C356.42,201.25 357.62,202.17 359,203 C360.38,203.83 361.88,204.5 363.3,205 C364.72,205.5 366.1,205.7 367.5,206 C368.9,206.3 369.62,206.27 371.7,206.8 C373.78,207.33 377.37,208.5 380,209.2 C382.63,209.9 384.92,210.45 387.5,211 C390.08,211.55 394.17,212.25 395.5,212.5" fill="none" stroke="#e80000" stroke-width="1.5" stroke-linejoin="round" stroke-linecap="round" />
<path d="M252,189.1 C253.68,189.93 259.07,191.92 262.1,194.1 C265.13,196.28 267.5,199.5 270.2,202.2 C272.9,204.9 275.6,208.1 278.3,210.3 C281,212.5 283.72,214.22 286.4,215.4 C289.08,216.58 292.13,217.3 294.4,217.4 C296.67,217.5 298.4,216.98 300,216 C301.6,215.02 302.67,213.33 304,211.5 C305.33,209.67 306.67,207.42 308,205 C309.33,202.58 310.55,199.83 312,197 C313.45,194.17 315.25,191.25 316.7,188 C318.15,184.75 319.37,180.92 320.7,177.5 C322.03,174.08 323.65,170 324.7,167.5 C325.75,165 326.3,163.65 327,162.5 C327.7,161.35 328.23,160.68 328.9,160.6 C329.57,160.52 330,160.85 331,162 C332,163.15 333.65,165.42 334.9,167.5 C336.15,169.58 337.37,172.42 338.5,174.5 C339.63,176.58 340.45,177.92 341.7,180 C342.95,182.08 344.62,184.78 346,187 C347.38,189.22 348.67,191.22 350,193.3 C351.33,195.38 352.62,197.55 354,199.5 C355.38,201.45 356.88,203.25 358.3,205 C359.72,206.75 361.1,208.47 362.5,210 C363.9,211.53 365.53,213.33 366.7,214.2 C367.87,215.07 368.67,215.07 369.5,215.2 C370.33,215.33 370.78,215.23 371.7,215 C372.62,214.77 373.9,214.2 375,213.8 C376.1,213.4 376.35,212.95 378.3,212.6 C380.25,212.25 383.83,211.72 386.7,211.7 C389.57,211.68 394.03,212.37 395.5,212.5" fill="none" stroke="#e80000" stroke-width="1.5" stroke-linejoin="round" stroke-linecap="round" />
<path d="M252,201.2 C253.68,201.37 259.07,201.35 262.1,202.2 C265.13,203.05 267.5,204.45 270.2,206.3 C272.9,208.15 275.6,211.02 278.3,213.3 C281,215.58 283.72,218.52 286.4,220 C289.08,221.48 291.72,222.13 294.4,222.2 C297.08,222.27 300.2,221.18 302.5,220.4 C304.8,219.62 306.37,218.57 308.2,217.5 C310.03,216.43 311.87,215.17 313.5,214 C315.13,212.83 316.47,212.13 318,210.5 C319.53,208.87 321.37,205.87 322.7,204.2 C324.03,202.53 324.98,201.33 326,200.5 C327.02,199.67 327.62,199.28 328.8,199.2 C329.98,199.12 331.48,198.8 333.1,200 C334.72,201.2 336.68,203.82 338.5,206.4 C340.32,208.98 342.17,213.08 344,215.5 C345.83,217.92 347.38,219.55 349.5,220.9 C351.62,222.25 353.98,223.3 356.7,223.6 C359.42,223.9 363.07,222.23 365.8,222.7 C368.53,223.17 370.37,224.58 373.1,226.4 C375.83,228.22 378.47,231.48 382.2,233.6 C385.93,235.72 393.28,238.18 395.5,239.1" fill="none" stroke="#e80000" stroke-width="1.5" stroke-linejoin="round" stroke-linecap="round" />
<path d="M252,207.3 C253.68,207.63 258.4,207.78 262.1,209.3 C265.8,210.82 270.15,213.7 274.2,216.4 C278.25,219.1 283.03,223.15 286.4,225.5 C289.77,227.85 291.72,229.27 294.4,230.5 C297.08,231.73 300.23,232.73 302.5,232.9 C304.77,233.07 306.38,232.9 308,231.5 C309.62,230.1 310.73,227.42 312.2,224.5 C313.67,221.58 315.5,216.83 316.8,214 C318.1,211.17 318.8,209.5 320,207.5 C321.2,205.5 322.53,203.33 324,202 C325.47,200.67 327.3,199.58 328.8,199.5 C330.3,199.42 331.72,200.42 333,201.5 C334.28,202.58 335.27,203.98 336.5,206 C337.73,208.02 338.9,211.1 340.4,213.6 C341.9,216.1 343.68,218.87 345.5,221 C347.32,223.13 348.82,224.75 351.3,226.4 C353.78,228.05 356.47,229.38 360.4,230.9 C364.33,232.42 369.05,234.13 374.9,235.5 C380.75,236.87 392.07,238.5 395.5,239.1" fill="none" stroke="#e80000" stroke-width="1.5" stroke-linejoin="round" stroke-linecap="round" />
<path d="M292.1,263 C292.92,261.25 294.98,255.93 297,252.5 C299.02,249.07 302.2,245.23 304.2,242.4 C306.2,239.57 307.32,237.52 309,235.5 C310.68,233.48 312.63,231.72 314.3,230.3 C315.97,228.88 317.47,227.85 319,227 C320.53,226.15 321.92,225.6 323.5,225.2 C325.08,224.8 326.83,224.6 328.5,224.6 C330.17,224.6 331.92,224.77 333.5,225.2 C335.08,225.63 336.48,226.35 338,227.2 C339.52,228.05 341.18,228.75 342.6,230.3 C344.02,231.85 345.23,233.8 346.5,236.5 C347.77,239.2 349.25,243.25 350.2,246.5 C351.15,249.75 351.73,253.25 352.2,256 C352.67,258.75 352.87,261.83 353,263" fill="none" stroke="#e80000" stroke-width="1.5" stroke-linejoin="round" stroke-linecap="round" />
<path d="M300.2,263 C300.58,261.83 301.48,258.42 302.5,256 C303.52,253.58 305.13,250.58 306.3,248.5 C307.47,246.42 308.5,244.85 309.5,243.5 C310.5,242.15 311.05,241.12 312.3,240.4 C313.55,239.68 315.38,239.43 317,239.2 C318.62,238.97 320.08,238.98 322,239 C323.92,239.02 326.33,239.2 328.5,239.3 C330.67,239.4 332.32,239.42 335,239.6 C337.68,239.78 341.77,240 344.6,240.4 C347.43,240.8 349.43,241.33 352,242 C354.57,242.67 356.67,243.23 360,244.4 C363.33,245.57 368,247.65 372,249 C376,250.35 380.08,251.58 384,252.5 C387.92,253.42 393.58,254.17 395.5,254.5" fill="none" stroke="#e80000" stroke-width="1.5" stroke-linejoin="round" stroke-linecap="round" />
<path d="M303.2,263 C303.58,261.92 304.62,258.67 305.5,256.5 C306.38,254.33 307.42,251.92 308.5,250 C309.58,248.08 310.75,246.42 312,245 C313.25,243.58 314.5,242.33 316,241.5 C317.5,240.67 318.92,240.28 321,240 C323.08,239.72 326.17,239.72 328.5,239.8 C330.83,239.88 332.92,239.97 335,240.5 C337.08,241.03 339.25,241.83 341,243 C342.75,244.17 344.25,245.67 345.5,247.5 C346.75,249.33 347.78,251.42 348.5,254 C349.22,256.58 349.58,261.5 349.8,263" fill="none" stroke="#e80000" stroke-width="1.5" stroke-linejoin="round" stroke-linecap="round" />
<path d="M328.9,239.8 C330.5,239.92 334.77,239.88 338.5,240.5 C342.23,241.12 347.05,242.22 351.3,243.5 C355.55,244.78 359.47,246.58 364,248.2 C368.53,249.82 373.25,252.1 378.5,253.2 C383.75,254.3 392.67,254.53 395.5,254.8" fill="none" stroke="#e80000" stroke-width="1.5" stroke-linejoin="round" stroke-linecap="round" />
</g>
<line x1="48.5" y1="134.15" x2="190" y2="134.15" stroke="#151515" stroke-width="1.3" />
<line x1="203.6" y1="134.15" x2="240.2" y2="134.15" stroke="#151515" stroke-width="1.3" />
<line x1="252.6" y1="134.15" x2="395.3" y2="134.15" stroke="#151515" stroke-width="1.3" />
<rect x="48.5" y="6" width="141.5" height="256.3" fill="none" stroke="#151515" stroke-width="1.5"/>
<rect x="203.6" y="6" width="36.6" height="256.3" fill="none" stroke="#151515" stroke-width="1.5"/>
<rect x="252.6" y="6" width="142.7" height="256.3" fill="none" stroke="#151515" stroke-width="1.5"/>
<line x1="43.5" y1="262.3" x2="48.5" y2="262.3" stroke="#151515" stroke-width="1.2" />
<text x="39.8" y="266.2" font-size="13" font-family='"Liberation Sans", sans-serif' text-anchor="end" stroke="#000" stroke-width="0.35">-3</text>
<line x1="43.5" y1="219.58" x2="48.5" y2="219.58" stroke="#151515" stroke-width="1.2" />
<text x="39.8" y="223.48" font-size="13" font-family='"Liberation Sans", sans-serif' text-anchor="end" stroke="#000" stroke-width="0.35">-2</text>
<line x1="43.5" y1="176.87" x2="48.5" y2="176.87" stroke="#151515" stroke-width="1.2" />
<text x="39.8" y="180.77" font-size="13" font-family='"Liberation Sans", sans-serif' text-anchor="end" stroke="#000" stroke-width="0.35">-1</text>
<line x1="43.5" y1="134.15" x2="48.5" y2="134.15" stroke="#151515" stroke-width="1.2" />
<text x="39.8" y="138.05" font-size="13" font-family='"Liberation Sans", sans-serif' text-anchor="end" stroke="#000" stroke-width="0.35">0</text>
<line x1="43.5" y1="91.43" x2="48.5" y2="91.43" stroke="#151515" stroke-width="1.2" />
<text x="39.8" y="95.33" font-size="13" font-family='"Liberation Sans", sans-serif' text-anchor="end" stroke="#000" stroke-width="0.35">1</text>
<line x1="43.5" y1="48.72" x2="48.5" y2="48.72" stroke="#151515" stroke-width="1.2" />
<text x="39.8" y="52.62" font-size="13" font-family='"Liberation Sans", sans-serif' text-anchor="end" stroke="#000" stroke-width="0.35">2</text>
<line x1="43.5" y1="6" x2="48.5" y2="6" stroke="#151515" stroke-width="1.2" />
<text x="39.8" y="9.9" font-size="13" font-family='"Liberation Sans", sans-serif' text-anchor="end" stroke="#000" stroke-width="0.35">3</text>
<line x1="45.5" y1="240.94" x2="48.5" y2="240.94" stroke="#151515" stroke-width="1.2" />
<line x1="45.5" y1="198.23" x2="48.5" y2="198.23" stroke="#151515" stroke-width="1.2" />
<line x1="45.5" y1="155.51" x2="48.5" y2="155.51" stroke="#151515" stroke-width="1.2" />
<line x1="45.5" y1="112.79" x2="48.5" y2="112.79" stroke="#151515" stroke-width="1.2" />
<line x1="45.5" y1="70.08" x2="48.5" y2="70.08" stroke="#151515" stroke-width="1.2" />
<line x1="45.5" y1="27.36" x2="48.5" y2="27.36" stroke="#151515" stroke-width="1.2" />
<text x="54.5" y="279.6" font-size="13.6" font-family='"Liberation Serif", serif' text-anchor="middle" stroke="#000" stroke-width="0.15">K</text>
<text x="123.8" y="279.6" font-size="13.6" font-family='"Liberation Serif", serif' text-anchor="middle" stroke="#000" stroke-width="0.15">&#915;</text>
<text x="184" y="279.6" font-size="13.6" font-family='"Liberation Serif", serif' text-anchor="middle" stroke="#000" stroke-width="0.15">M</text>
<text x="208" y="279.6" font-size="13.6" font-family='"Liberation Serif", serif' text-anchor="middle" stroke="#000" stroke-width="0.15">&#915;</text>
<text x="234.7" y="279.6" font-size="13.6" font-family='"Liberation Serif", serif' text-anchor="middle" stroke="#000" stroke-width="0.15">A</text>
<text x="258.7" y="279.6" font-size="13.6" font-family='"Liberation Serif", serif' text-anchor="middle" stroke="#000" stroke-width="0.15">H</text>
<text x="329" y="279.6" font-size="13.6" font-family='"Liberation Serif", serif' text-anchor="middle" stroke="#000" stroke-width="0.15">A</text>
<text x="390.9" y="279.6" font-size="13.6" font-family='"Liberation Serif", serif' text-anchor="middle" stroke="#000" stroke-width="0.15">L</text>
<text transform="translate(15.4,148.2) rotate(-90)" font-size="21" font-family='"Liberation Serif", serif' text-anchor="middle" stroke="#000" stroke-width="0.35">Energy (eV)</text>
<text transform="translate(14.3,428.8) rotate(-90)" font-size="21" font-family='"Liberation Serif", serif' text-anchor="middle" stroke="#000" stroke-width="0.35">Energy (eV)</text>
<text x="0.5" y="10.8" font-size="20" font-family='"Liberation Sans", sans-serif' text-anchor="start" stroke="#000" stroke-width="0.35">a</text>
<g clip-path="url(#cb)">
<path d="M174.63,298.6 C174.7,298.88 173.99,296.32 175.1,300.3 C176.21,304.28 179.32,315.88 181.3,322.5 C183.28,329.12 185.4,335.43 187,340 C188.6,344.57 189.58,346.62 190.9,349.9 C192.22,353.18 193.58,356.42 194.9,359.7 C196.22,362.98 197.48,366.8 198.8,369.6 C200.12,372.4 201.53,374.93 202.8,376.5 C204.07,378.07 205.18,378.75 206.4,379 C207.62,379.25 208.9,378.75 210.1,378 C211.3,377.25 212.38,376.12 213.6,374.5 C214.82,372.88 216.07,370.58 217.4,368.3 C218.73,366.02 220.3,363.68 221.6,360.8 C222.9,357.92 223.97,354.38 225.2,351 C226.43,347.62 227.73,344 229,340.5 C230.27,337 230.3,336.7 232.8,330 C235.3,323.3 242.03,305.53 244,300.3 C245.97,295.07 244.53,298.88 244.64,298.6" fill="none" stroke="#fa1414" stroke-width="1.7" stroke-linejoin="round" stroke-linecap="round" />
<path d="M268.57,298.6 C268.5,298.88 269.21,296.32 268.1,300.3 C266.99,304.28 263.88,315.88 261.9,322.5 C259.92,329.12 257.8,335.43 256.2,340 C254.6,344.57 253.62,346.62 252.3,349.9 C250.98,353.18 249.62,356.42 248.3,359.7 C246.98,362.98 245.72,366.8 244.4,369.6 C243.08,372.4 241.67,374.93 240.4,376.5 C239.13,378.07 238.02,378.75 236.8,379 C235.58,379.25 234.3,378.75 233.1,378 C231.9,377.25 230.82,376.12 229.6,374.5 C228.38,372.88 227.13,370.58 225.8,368.3 C224.47,366.02 222.9,363.68 221.6,360.8 C220.3,357.92 219.23,354.38 218,351 C216.77,347.62 215.47,344 214.2,340.5 C212.93,337 212.9,336.7 210.4,330 C207.9,323.3 201.17,305.53 199.2,300.3 C197.23,295.07 198.67,298.88 198.56,298.6" fill="none" stroke="#fa1414" stroke-width="1.7" stroke-linejoin="round" stroke-linecap="round" />
<path d="M173.5,298.6 C173.57,298.88 172.97,296.32 173.9,300.3 C174.83,304.28 177.42,315.88 179.1,322.5 C180.78,329.12 182.52,335.43 184,340 C185.48,344.57 186.68,346.62 188,349.9 C189.32,353.18 190.75,356.42 191.9,359.7 C193.05,362.98 193.92,366.32 194.9,369.6 C195.88,372.88 196.82,376.45 197.8,379.4 C198.78,382.35 199.82,385.15 200.8,387.3 C201.78,389.45 202.72,391.23 203.7,392.3 C204.68,393.37 205.55,393.88 206.7,393.7 C207.85,393.52 209.28,392.57 210.6,391.2 C211.92,389.83 213.35,387.53 214.6,385.5 C215.85,383.47 216.93,381.25 218.1,379 C219.27,376.75 220.13,375.58 221.6,372 C223.07,368.42 224.87,363.17 226.9,357.5 C228.93,351.83 231.73,343.83 233.8,338 C235.87,332.17 237.08,328.78 239.3,322.5 C241.52,316.22 245.7,304.28 247.1,300.3 C248.5,296.32 247.6,298.88 247.7,298.6" fill="none" stroke="#00ee00" stroke-width="1.7" stroke-linejoin="round" stroke-linecap="round" />
<path d="M269.7,298.6 C269.63,298.88 270.23,296.32 269.3,300.3 C268.37,304.28 265.78,315.88 264.1,322.5 C262.42,329.12 260.68,335.43 259.2,340 C257.72,344.57 256.52,346.62 255.2,349.9 C253.88,353.18 252.45,356.42 251.3,359.7 C250.15,362.98 249.28,366.32 248.3,369.6 C247.32,372.88 246.38,376.45 245.4,379.4 C244.42,382.35 243.38,385.15 242.4,387.3 C241.42,389.45 240.48,391.23 239.5,392.3 C238.52,393.37 237.65,393.88 236.5,393.7 C235.35,393.52 233.92,392.57 232.6,391.2 C231.28,389.83 229.85,387.53 228.6,385.5 C227.35,383.47 226.27,381.25 225.1,379 C223.93,376.75 223.07,375.58 221.6,372 C220.13,368.42 218.33,363.17 216.3,357.5 C214.27,351.83 211.47,343.83 209.4,338 C207.33,332.17 206.12,328.78 203.9,322.5 C201.68,316.22 197.5,304.28 196.1,300.3 C194.7,296.32 195.6,298.88 195.5,298.6" fill="none" stroke="#00ee00" stroke-width="1.7" stroke-linejoin="round" stroke-linecap="round" />
<path d="M184.21,298.6 C184.29,298.88 183.55,296.32 184.7,300.3 C185.85,304.28 189.17,315.88 191.1,322.5 C193.03,329.12 194.68,334.95 196.3,340 C197.92,345.05 199.23,348.2 200.8,352.8 C202.37,357.4 204.07,362.83 205.7,367.6 C207.33,372.37 209.12,377.83 210.6,381.4 C212.08,384.97 213.35,387.07 214.6,389 C215.85,390.93 216.93,392.1 218.1,393 C219.27,393.9 220.43,394.4 221.6,394.4 C222.77,394.4 223.93,393.9 225.1,393 C226.27,392.1 227.35,390.93 228.6,389 C229.85,387.07 231.12,384.97 232.6,381.4 C234.08,377.83 235.87,372.37 237.5,367.6 C239.13,362.83 240.83,357.4 242.4,352.8 C243.97,348.2 245.28,345.05 246.9,340 C248.52,334.95 250.17,329.12 252.1,322.5 C254.03,315.88 257.35,304.28 258.5,300.3 C259.65,296.32 258.91,298.88 258.99,298.6" fill="none" stroke="#0000ee" stroke-width="1.7" stroke-linejoin="round" stroke-linecap="round" />
<path d="M122,546 C122.08,545.88 120.83,547.22 122.5,545.3 C124.17,543.38 128.8,538.08 132,534.5 C135.2,530.92 138.2,527.97 141.7,523.8 C145.2,519.63 149.22,514.3 153,509.5 C156.78,504.7 160.68,499.83 164.4,495 C168.12,490.17 171.98,484.83 175.3,480.5 C178.62,476.17 181.83,472.22 184.3,469 C186.77,465.78 188.28,463.52 190.1,461.2 C191.92,458.88 193.8,456.58 195.2,455.1 C196.6,453.62 197.55,452.88 198.5,452.3 C199.45,451.72 200.07,451.6 200.9,451.6 C201.73,451.6 202.62,451.57 203.5,452.3 C204.38,453.03 205.07,454.37 206.2,456 C207.33,457.63 208.95,459.92 210.3,462.1 C211.65,464.28 213.1,466.7 214.3,469.1 C215.5,471.5 216.6,474.35 217.5,476.5 C218.4,478.65 219.07,480.23 219.7,482 C220.33,483.77 220.32,484.95 221.3,487.1 C222.28,489.25 224.13,492.5 225.6,494.9 C227.07,497.3 228.08,499.62 230.1,501.5 C232.12,503.38 235.17,505.02 237.7,506.2 C240.23,507.38 242.78,507.83 245.3,508.6 C247.82,509.37 250.68,510.1 252.8,510.8 C254.92,511.5 255.98,511.9 258,512.8 C260.02,513.7 262.9,514.95 264.9,516.2 C266.9,517.45 268.32,518.95 270,520.3 C271.68,521.65 273.07,522.5 275,524.3 C276.93,526.1 279.77,528.9 281.6,531.1 C283.43,533.3 284.72,535.28 286,537.5 C287.28,539.72 288.67,542.98 289.3,544.4 C289.93,545.82 289.72,545.73 289.8,546" fill="none" stroke="#00ee00" stroke-width="1.7" stroke-linejoin="round" stroke-linecap="round" />
<path d="M294.8,546 C294.72,545.73 295.22,546.88 294.3,544.4 C293.38,541.92 291.42,535.72 289.3,531.1 C287.18,526.48 284.37,521.88 281.6,516.7 C278.83,511.52 275.63,505.48 272.7,500 C269.77,494.52 266.17,487.8 264,483.8 C261.83,479.8 260.92,478.57 259.7,476 C258.48,473.43 257.95,470.77 256.7,468.4 C255.45,466.03 253.87,464.1 252.2,461.8 C250.53,459.5 248.07,456.1 246.7,454.6 C245.33,453.1 244.83,453.18 244,452.8 C243.17,452.42 242.53,452.28 241.7,452.3 C240.87,452.32 239.83,452.43 239,452.9 C238.17,453.37 237.78,453.67 236.7,455.1 C235.62,456.53 233.87,459.18 232.5,461.5 C231.13,463.82 229.7,466.5 228.5,469 C227.3,471.5 226.22,474.33 225.3,476.5 C224.38,478.67 223.67,480.23 223,482 C222.33,483.77 222.17,485.13 221.3,487.1 C220.43,489.07 219.32,491.58 217.8,493.8 C216.28,496.02 214.23,498.55 212.2,500.4 C210.17,502.25 208.18,503.63 205.6,504.9 C203.02,506.17 198.9,507.17 196.7,508 C194.5,508.83 194.58,508.63 192.4,509.9 C190.22,511.17 186.33,513.6 183.6,515.6 C180.87,517.6 177.62,520.5 176,521.9 C174.38,523.3 175.73,522.12 173.9,524 C172.07,525.88 168.13,529.65 165,533.2 C161.87,536.75 156.83,543.17 155.1,545.3 C153.37,547.43 154.68,545.88 154.6,546" fill="none" stroke="#00ee00" stroke-width="1.7" stroke-linejoin="round" stroke-linecap="round" />
<path d="M131,546 C131.1,545.88 130.02,547.22 131.6,545.3 C133.18,543.38 137.55,538.05 140.5,534.5 C143.45,530.95 146.98,526.75 149.3,524 C151.62,521.25 152.03,521 154.4,518 C156.77,515 160.53,509.92 163.5,506 C166.47,502.08 169.7,498.08 172.2,494.5 C174.7,490.92 176.53,487.3 178.5,484.5 C180.47,481.7 182.23,480.1 184,477.7 C185.77,475.3 187.42,471.95 189.1,470.1 C190.78,468.25 192.52,467.35 194.1,466.6 C195.68,465.85 197.08,465.52 198.6,465.6 C200.12,465.68 201.77,466.08 203.2,467.1 C204.63,468.12 205.98,470.22 207.2,471.7 C208.42,473.18 209.45,474.2 210.5,476 C211.55,477.8 212.47,480.1 213.5,482.5 C214.53,484.9 215.78,488.32 216.7,490.4 C217.62,492.48 218.22,493.43 219,495 C219.78,496.57 220.38,497.73 221.4,499.8 C222.42,501.87 223.65,505.08 225.1,507.4 C226.55,509.72 228,511.92 230.1,513.7 C232.2,515.48 235.17,516.95 237.7,518.1 C240.23,519.25 242.78,519.77 245.3,520.6 C247.82,521.43 251.02,522.43 252.8,523.1 C254.58,523.77 254.73,523.97 256,524.6 C257.27,525.23 258.92,526 260.4,526.9 C261.88,527.8 263.55,528.98 264.9,530 C266.25,531.02 267.2,531.88 268.5,533 C269.8,534.12 270.9,534.8 272.7,536.7 C274.5,538.6 278.08,542.85 279.3,544.4 C280.52,545.95 279.88,545.73 280,546" fill="none" stroke="#fa1414" stroke-width="1.7" stroke-linejoin="round" stroke-linecap="round" />
<path d="M292,546 C291.93,545.73 292.6,546.88 291.6,544.4 C290.6,541.92 288.23,535.72 286,531.1 C283.77,526.48 280.87,521.6 278.2,516.7 C275.53,511.8 272.37,505.88 270,501.7 C267.63,497.52 265.8,494.58 264,491.6 C262.2,488.62 260.8,486.4 259.2,483.8 C257.6,481.2 256.12,478.47 254.4,476 C252.68,473.53 250.75,470.53 248.9,469 C247.05,467.47 245.15,466.7 243.3,466.8 C241.45,466.9 239.47,468.07 237.8,469.6 C236.13,471.13 234.68,473.77 233.3,476 C231.92,478.23 230.6,480.78 229.5,483 C228.4,485.22 227.62,487.38 226.7,489.3 C225.78,491.22 224.88,492.75 224,494.5 C223.12,496.25 222.45,497.45 221.4,499.8 C220.35,502.15 219.37,506.08 217.7,508.6 C216.03,511.12 213.72,513.1 211.4,514.9 C209.08,516.7 206.55,518.13 203.8,519.4 C201.05,520.67 197.63,521.45 194.9,522.5 C192.17,523.55 189.72,524.45 187.4,525.7 C185.08,526.95 182.57,528.88 181,530 C179.43,531.12 179.42,531.12 178,532.4 C176.58,533.68 174.67,535.55 172.5,537.7 C170.33,539.85 166.35,543.92 165,545.3 C163.65,546.68 164.5,545.88 164.4,546" fill="none" stroke="#fa1414" stroke-width="1.7" stroke-linejoin="round" stroke-linecap="round" />
<path d="M133.2,546 C133.32,545.88 132.65,546.3 133.9,545.3 C135.15,544.3 138.3,542.02 140.7,540 C143.1,537.98 145.18,535.87 148.3,533.2 C151.42,530.53 155.45,527.95 159.4,524 C163.35,520.05 167.83,514.28 172,509.5 C176.17,504.72 181.4,498.8 184.4,495.3 C187.4,491.8 188.22,490.72 190,488.5 C191.78,486.28 193.4,484.38 195.1,482 C196.8,479.62 198.52,476.52 200.2,474.2 C201.88,471.88 203.52,470.2 205.2,468.1 C206.88,466 208.78,463.53 210.3,461.6 C211.82,459.67 213.1,457.9 214.3,456.5 C215.5,455.1 216.55,453.98 217.5,453.2 C218.45,452.42 219.33,452.07 220,451.8 C220.67,451.53 220.77,451.42 221.5,451.6 C222.23,451.78 223.17,452.13 224.4,452.9 C225.63,453.67 227.23,454.53 228.9,456.2 C230.57,457.87 232.73,460.67 234.4,462.9 C236.07,465.13 237.42,467.42 238.9,469.6 C240.38,471.78 241.78,473.85 243.3,476 C244.82,478.15 246.33,480.28 248,482.5 C249.67,484.72 251.65,487.05 253.3,489.3 C254.95,491.55 256.12,493.58 257.9,496 C259.68,498.42 261.73,500.8 264,503.8 C266.27,506.8 268.2,509.82 271.5,514 C274.8,518.18 280.27,523.83 283.8,528.9 C287.33,533.97 291.13,541.55 292.7,544.4 C294.27,547.25 293.12,545.73 293.2,546" fill="none" stroke="#0000ee" stroke-width="1.7" stroke-linejoin="round" stroke-linecap="round" />
</g>
<line x1="221.45" y1="300.3" x2="221.45" y2="545.3" stroke="#000" stroke-width="1.3" />
<rect x="56" y="300.3" width="331.2" height="245" fill="none" stroke="#151515" stroke-width="1.3"/>
<line x1="51" y1="545.3" x2="56" y2="545.3" stroke="#151515" stroke-width="1.2" />
<text x="47.3" y="549.4" font-size="13" font-family='"Liberation Sans", sans-serif' text-anchor="end" stroke="#000" stroke-width="0.12">-0.4</text>
<line x1="51" y1="514.67" x2="56" y2="514.67" stroke="#151515" stroke-width="1.2" />
<text x="47.3" y="518.77" font-size="13" font-family='"Liberation Sans", sans-serif' text-anchor="end" stroke="#000" stroke-width="0.12">-0.3</text>
<line x1="51" y1="484.05" x2="56" y2="484.05" stroke="#151515" stroke-width="1.2" />
<text x="47.3" y="488.15" font-size="13" font-family='"Liberation Sans", sans-serif' text-anchor="end" stroke="#000" stroke-width="0.12">-0.2</text>
<line x1="51" y1="453.42" x2="56" y2="453.42" stroke="#151515" stroke-width="1.2" />
<text x="47.3" y="457.52" font-size="13" font-family='"Liberation Sans", sans-serif' text-anchor="end" stroke="#000" stroke-width="0.12">-0.1</text>
<line x1="51" y1="422.8" x2="56" y2="422.8" stroke="#151515" stroke-width="1.2" />
<text x="47.3" y="426.9" font-size="13" font-family='"Liberation Sans", sans-serif' text-anchor="end" stroke="#000" stroke-width="0.12">0.0</text>
<line x1="51" y1="392.18" x2="56" y2="392.18" stroke="#151515" stroke-width="1.2" />
<text x="47.3" y="396.28" font-size="13" font-family='"Liberation Sans", sans-serif' text-anchor="end" stroke="#000" stroke-width="0.12">0.1</text>
<line x1="51" y1="361.55" x2="56" y2="361.55" stroke="#151515" stroke-width="1.2" />
<text x="47.3" y="365.65" font-size="13" font-family='"Liberation Sans", sans-serif' text-anchor="end" stroke="#000" stroke-width="0.12">0.2</text>
<line x1="51" y1="330.93" x2="56" y2="330.93" stroke="#151515" stroke-width="1.2" />
<text x="47.3" y="335.03" font-size="13" font-family='"Liberation Sans", sans-serif' text-anchor="end" stroke="#000" stroke-width="0.12">0.3</text>
<line x1="51" y1="300.3" x2="56" y2="300.3" stroke="#151515" stroke-width="1.2" />
<text x="47.3" y="304.4" font-size="13" font-family='"Liberation Sans", sans-serif' text-anchor="end" stroke="#000" stroke-width="0.12">0.4</text>
<line x1="53.3" y1="529.99" x2="56" y2="529.99" stroke="#151515" stroke-width="1.2" />
<line x1="53.3" y1="499.36" x2="56" y2="499.36" stroke="#151515" stroke-width="1.2" />
<line x1="53.3" y1="468.74" x2="56" y2="468.74" stroke="#151515" stroke-width="1.2" />
<line x1="53.3" y1="438.11" x2="56" y2="438.11" stroke="#151515" stroke-width="1.2" />
<line x1="53.3" y1="407.49" x2="56" y2="407.49" stroke="#151515" stroke-width="1.2" />
<line x1="53.3" y1="376.86" x2="56" y2="376.86" stroke="#151515" stroke-width="1.2" />
<line x1="53.3" y1="346.24" x2="56" y2="346.24" stroke="#151515" stroke-width="1.2" />
<line x1="53.3" y1="315.61" x2="56" y2="315.61" stroke="#151515" stroke-width="1.2" />
<line x1="56" y1="545.3" x2="56" y2="550.3" stroke="#151515" stroke-width="1.2" />
<text x="56" y="564.6" font-size="13" font-family='"Liberation Sans", sans-serif' text-anchor="middle" stroke="#000" stroke-width="0.12">0.4</text>
<line x1="138.8" y1="545.3" x2="138.8" y2="550.3" stroke="#151515" stroke-width="1.2" />
<text x="138.8" y="564.6" font-size="13" font-family='"Liberation Sans", sans-serif' text-anchor="middle" stroke="#000" stroke-width="0.12">0.2</text>
<line x1="221.6" y1="545.3" x2="221.6" y2="550.3" stroke="#151515" stroke-width="1.2" />
<text x="221.6" y="564.6" font-size="13" font-family='"Liberation Sans", sans-serif' text-anchor="middle" stroke="#000" stroke-width="0.12">0.0</text>
<line x1="304.4" y1="545.3" x2="304.4" y2="550.3" stroke="#151515" stroke-width="1.2" />
<text x="304.4" y="564.6" font-size="13" font-family='"Liberation Sans", sans-serif' text-anchor="middle" stroke="#000" stroke-width="0.12">0.2</text>
<line x1="387.2" y1="545.3" x2="387.2" y2="550.3" stroke="#151515" stroke-width="1.2" />
<text x="387.2" y="564.6" font-size="13" font-family='"Liberation Sans", sans-serif' text-anchor="middle" stroke="#000" stroke-width="0.12">0.4</text>
<line x1="97.4" y1="545.3" x2="97.4" y2="548" stroke="#151515" stroke-width="1.2" />
<line x1="180.2" y1="545.3" x2="180.2" y2="548" stroke="#151515" stroke-width="1.2" />
<line x1="263" y1="545.3" x2="263" y2="548" stroke="#151515" stroke-width="1.2" />
<line x1="345.8" y1="545.3" x2="345.8" y2="548" stroke="#151515" stroke-width="1.2" />
<text x="63.8" y="587.4" font-size="20.5" font-family='"Liberation Serif", serif' text-anchor="middle" >H</text>
<line x1="97" y1="580.25" x2="80" y2="580.25" stroke="#111" stroke-width="1.0" />
<path d="M78,580.25 L83.6,576.35 L83,577.15 L80.6,580.25 L83,583.35 L83.6,584.15 Z" fill="#111" stroke="#111" stroke-width="0.4" stroke-linejoin="round"/>
<text x="221.4" y="587.9" font-size="20.5" font-family='"Liberation Serif", serif' text-anchor="middle" >A</text>
<line x1="349.1" y1="580.25" x2="366.3" y2="580.25" stroke="#111" stroke-width="1.0" />
<path d="M368.3,580.25 L362.7,576.35 L363.3,577.15 L365.7,580.25 L363.3,583.35 L362.7,584.15 Z" fill="#111" stroke="#111" stroke-width="0.4" stroke-linejoin="round"/>
<text x="381.4" y="587.4" font-size="20.5" font-family='"Liberation Serif", serif' text-anchor="middle" >L</text>
<text x="1.1" y="309.6" font-size="20" font-family='"Liberation Sans", sans-serif' text-anchor="start" stroke="#000" stroke-width="0.35">b</text>
<line x1="67.9" y1="398.9" x2="96" y2="398.9" stroke="#fa1414" stroke-width="1.8" />
<text x="99.4" y="403.7" font-size="12.15" font-family='"Liberation Sans", sans-serif' text-anchor="start" stroke="#000" stroke-width="0.12">VASP ordered</text>
<line x1="67.9" y1="413.65" x2="96" y2="413.65" stroke="#00ee00" stroke-width="1.8" />
<text x="99.4" y="418.45" font-size="12.15" font-family='"Liberation Sans", sans-serif' text-anchor="start" stroke="#000" stroke-width="0.12">ABINIT ordered</text>
<line x1="67.9" y1="428.4" x2="96" y2="428.4" stroke="#0000ee" stroke-width="1.8" />
<text x="99.4" y="433.2" font-size="12.15" font-family='"Liberation Sans", sans-serif' text-anchor="start" stroke="#000" stroke-width="0.12">ABINIT disordered</text>
<rect x="294.5" y="347.3" width="81.8" height="122.5" fill="#fff" stroke="none"/>
<g clip-path="url(#ci)">
<path d="M312.3,345 C312.38,345.38 312.05,343.13 312.8,347.3 C313.55,351.47 315.43,362.55 316.8,370 C318.17,377.45 319.65,385.47 321,392 C322.35,398.53 323.65,403.48 324.9,409.2 C326.15,414.92 327.42,421.83 328.5,426.3 C329.58,430.77 330.52,433.42 331.4,436 C332.28,438.58 333.1,440.38 333.8,441.8 C334.5,443.22 335,444.5 335.6,444.5 C336.2,444.5 336.7,443.22 337.4,441.8 C338.1,440.38 338.92,438.58 339.8,436 C340.68,433.42 341.62,430.77 342.7,426.3 C343.78,421.83 345.05,414.92 346.3,409.2 C347.55,403.48 348.85,398.53 350.2,392 C351.55,385.47 353.03,377.45 354.4,370 C355.77,362.55 357.65,351.47 358.4,347.3 C359.15,343.13 358.82,345.38 358.9,345" fill="none" stroke="#0000ee" stroke-width="1.4" stroke-linejoin="round" stroke-linecap="round" />
<path d="M304,345 C304.1,345.38 303.47,343.13 304.6,347.3 C305.73,351.47 308.78,362.55 310.8,370 C312.82,377.45 315,385.47 316.7,392 C318.4,398.53 319.42,403.48 321,409.2 C322.58,414.92 324.72,421.42 326.2,426.3 C327.68,431.18 328.83,435.62 329.9,438.5 C330.97,441.38 331.65,442.37 332.6,443.6 C333.55,444.83 334.6,445.9 335.6,445.9 C336.6,445.9 337.65,444.83 338.6,443.6 C339.55,442.37 340.23,441.38 341.3,438.5 C342.37,435.62 343.52,431.18 345,426.3 C346.48,421.42 348.62,414.92 350.2,409.2 C351.78,403.48 352.8,398.53 354.5,392 C356.2,385.47 358.38,377.45 360.4,370 C362.42,362.55 365.47,351.47 366.6,347.3 C367.73,343.13 367.1,345.38 367.2,345" fill="none" stroke="#f08a1c" stroke-width="2.8" stroke-linejoin="round" stroke-linecap="round" />
</g>
<line x1="335.6" y1="347.3" x2="335.6" y2="469.8" stroke="#151515" stroke-width="1" />
<rect x="294.5" y="347.3" width="81.8" height="122.5" fill="none" stroke="#151515" stroke-width="1"/>
<line x1="294" y1="469.8" x2="376.8" y2="469.8" stroke="#505050" stroke-width="1.7" />
<line x1="294.5" y1="469.8" x2="294.5" y2="471.6" stroke="#333" stroke-width="0.9" />
<line x1="315.05" y1="469.8" x2="315.05" y2="471.6" stroke="#333" stroke-width="0.9" />
<line x1="335.6" y1="469.8" x2="335.6" y2="471.6" stroke="#333" stroke-width="0.9" />
<line x1="356.15" y1="469.8" x2="356.15" y2="471.6" stroke="#333" stroke-width="0.9" />
<line x1="376.7" y1="469.8" x2="376.7" y2="471.6" stroke="#333" stroke-width="0.9" />
<line x1="292" y1="469.8" x2="294.5" y2="469.8" stroke="#151515" stroke-width="1" />
<text x="291.4" y="473.1" font-size="9.5" font-family='"Liberation Sans", sans-serif' text-anchor="end" stroke="#000" stroke-width="0.15">0.0</text>
<line x1="292" y1="445.3" x2="294.5" y2="445.3" stroke="#151515" stroke-width="1" />
<text x="291.4" y="448.6" font-size="9.5" font-family='"Liberation Sans", sans-serif' text-anchor="end" stroke="#000" stroke-width="0.15">0.1</text>
<line x1="292" y1="420.8" x2="294.5" y2="420.8" stroke="#151515" stroke-width="1" />
<text x="291.4" y="424.1" font-size="9.5" font-family='"Liberation Sans", sans-serif' text-anchor="end" stroke="#000" stroke-width="0.15">0.2</text>
<line x1="292" y1="396.3" x2="294.5" y2="396.3" stroke="#151515" stroke-width="1" />
<text x="291.4" y="399.6" font-size="9.5" font-family='"Liberation Sans", sans-serif' text-anchor="end" stroke="#000" stroke-width="0.15">0.3</text>
<line x1="292" y1="371.8" x2="294.5" y2="371.8" stroke="#151515" stroke-width="1" />
<text x="291.4" y="375.1" font-size="9.5" font-family='"Liberation Sans", sans-serif' text-anchor="end" stroke="#000" stroke-width="0.15">0.4</text>
<line x1="292" y1="347.3" x2="294.5" y2="347.3" stroke="#151515" stroke-width="1" />
<text x="291.4" y="350.6" font-size="9.5" font-family='"Liberation Sans", sans-serif' text-anchor="end" stroke="#000" stroke-width="0.15">0.5</text>
<text x="294.5" y="480.3" font-size="9.5" font-family='"Liberation Sans", sans-serif' text-anchor="middle" stroke="#000" stroke-width="0.15">0.2</text>
<text x="335.6" y="480.3" font-size="9.5" font-family='"Liberation Sans", sans-serif' text-anchor="middle" stroke="#000" stroke-width="0.15">0.0</text>
<text x="376.7" y="480.3" font-size="9.5" font-family='"Liberation Sans", sans-serif' text-anchor="middle" stroke="#000" stroke-width="0.15">0.2</text>
<text x="331.3" y="338" font-size="14.3" font-family='"Liberation Serif", serif' text-anchor="middle" stroke="#000" stroke-width="0.12">4&#215;4&#215;1 supercell</text>
<text transform="translate(272.5,414.5) rotate(-90)" font-size="14" font-family='"Liberation Serif", serif' text-anchor="middle" stroke="#000" stroke-width="0.15">Energy (eV)</text></svg></body></html>
